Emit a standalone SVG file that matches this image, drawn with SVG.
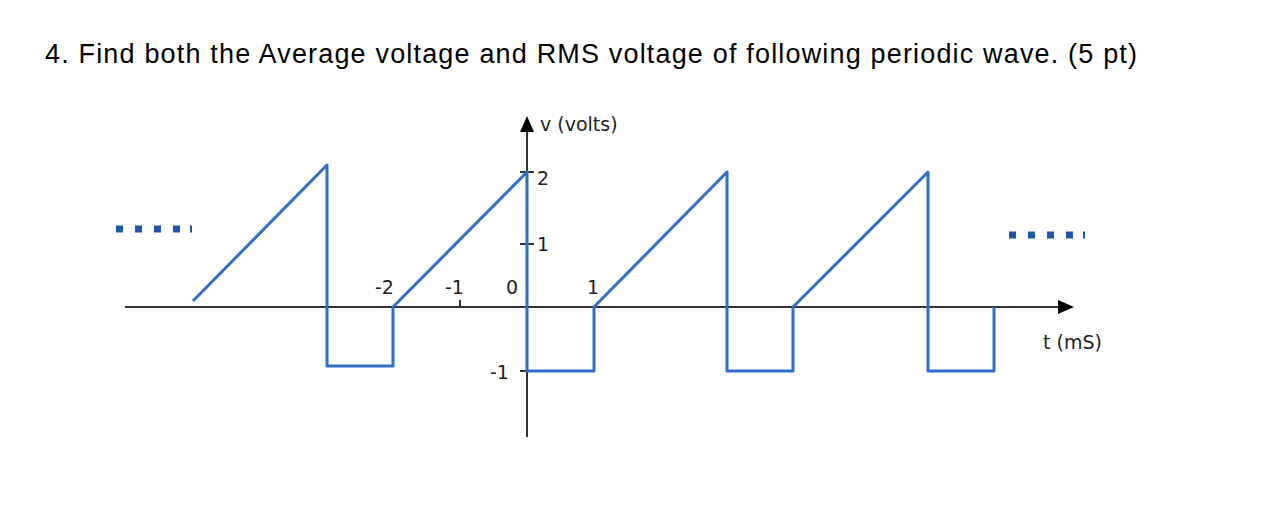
<svg xmlns="http://www.w3.org/2000/svg" width="1280" height="514" viewBox="0 0 1280 514">
<style>
.t{font-family:"Liberation Sans",Arial,sans-serif;fill:#000}
.l{font-family:"DejaVu Sans","Liberation Sans",sans-serif;font-size:19px;fill:#222}
.ax{stroke:#333;stroke-width:2;fill:none}
.w{stroke:#2f6fc4;stroke-width:3;fill:none;stroke-linejoin:round}
.d{stroke:#1f55a8;stroke-width:7;fill:none;stroke-dasharray:7 12}
</style>
<defs><marker id="ar" markerWidth="16" markerHeight="14" refX="14" refY="7" orient="auto" markerUnits="userSpaceOnUse"><path d="M0,0 L16,7 L0,14 Z" fill="#000"/></marker></defs>
<rect width="1280" height="514" fill="#fff"/>
<text class="t" x="45" y="63" font-size="27" textLength="1092" lengthAdjust="spacing">4.   Find both the Average voltage and RMS voltage of following periodic wave. (5 pt)</text>
<g id="axes">
<line class="ax" x1="125" y1="307" x2="1072" y2="307" marker-end="url(#ar)"/>
<line class="ax" x1="527" y1="437" x2="527" y2="118" marker-end="url(#ar)"/>
<line class="ax" x1="460" y1="300" x2="460" y2="307"/>
<line class="ax" x1="520" y1="172" x2="534" y2="172"/>
<line class="ax" x1="520" y1="244" x2="534" y2="244"/>
<line class="ax" x1="520" y1="371" x2="534" y2="371"/>
</g>
<g id="wave">
<polyline class="w" points="193,301 327,165 327,366 393,366 393,307 527,172 527,371 594,371 594,307 727,172 727,371 793,371 793,307 928,172 928,371 994,371 994,307"/>
<line class="d" x1="116" y1="229" x2="188" y2="229"/>
<line class="d" x1="190" y1="229" x2="192" y2="229" stroke-dasharray="none"/>
<line class="d" x1="1009" y1="235" x2="1081" y2="235"/>
<line class="d" x1="1083" y1="235" x2="1085" y2="235" stroke-dasharray="none"/>
</g>
<g id="labels">
<text class="l" x="540" y="131">v (volts)</text>
<text class="l" x="537" y="185">2</text>
<text class="l" x="537" y="251">1</text>
<text class="l" x="375" y="294">-2</text>
<text class="l" x="445" y="294">-1</text>
<text class="l" x="506" y="294">0</text>
<text class="l" x="587" y="294">1</text>
<text class="l" x="490" y="379">-1</text>
<text class="l" x="1043" y="349">t (mS)</text>
</g>
</svg>
